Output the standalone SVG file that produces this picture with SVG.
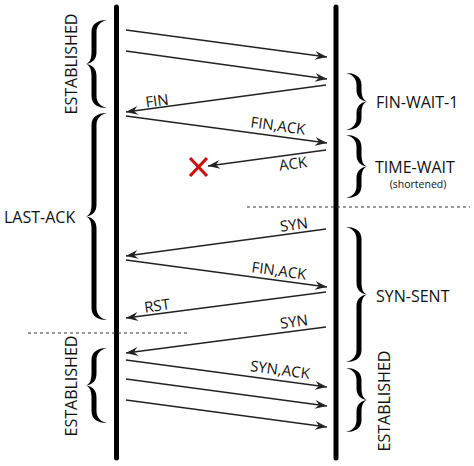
<svg xmlns="http://www.w3.org/2000/svg" width="474" height="466" viewBox="0 0 474 466">
<style>
.life{stroke:#000;stroke-width:5;stroke-linecap:round;fill:none}
.msg{stroke:#222;stroke-width:1.3;fill:none;marker-end:url(#ah)}
.dot{stroke:#333;stroke-width:1.2;stroke-dasharray:3,3;fill:none}
.brace{fill:#000}
.lbl{font-family:"Open Sans","DejaVu Sans",sans-serif;font-size:15px;fill:#111;text-anchor:middle}
.st{font-family:"Open Sans","DejaVu Sans",sans-serif;font-size:16px;fill:#111}
.sm{font-family:"Open Sans","DejaVu Sans",sans-serif;font-size:10.5px;fill:#111;text-anchor:middle}
</style>
<defs>
<marker id="ah" viewBox="-13 -5 14 10" refX="0" refY="0" markerWidth="14" markerHeight="10" markerUnits="userSpaceOnUse" orient="auto">
<path d="M0,0 L-12,-4.5 L-8,0 L-12,4.5 Z" fill="#222"/>
</marker>
</defs>
<g id="lifelines">
<line class="life" x1="116.5" y1="7" x2="116.5" y2="458"/>
<line class="life" x1="336" y1="7" x2="336" y2="458"/>
</g>
<g id="connectors">
<line class="msg" x1="126" y1="30" x2="327" y2="57"/>
<line class="msg" x1="126" y1="51" x2="327" y2="79"/>
<line class="msg" x1="326" y1="85" x2="126" y2="112"/>
<line class="msg" x1="126" y1="116" x2="327" y2="143"/>
<line class="msg" x1="326" y1="150" x2="208" y2="166"/>
<line class="msg" x1="326" y1="229" x2="126" y2="256"/>
<line class="msg" x1="126" y1="260" x2="327" y2="287"/>
<line class="msg" x1="326" y1="292" x2="126" y2="318"/>
<line class="msg" x1="326" y1="327" x2="126" y2="353"/>
<line class="msg" x1="126" y1="360" x2="327" y2="387"/>
<line class="msg" x1="126" y1="379" x2="327" y2="406"/>
<line class="msg" x1="126" y1="400" x2="327" y2="427"/>
<line class="dot" x1="247" y1="207" x2="470" y2="207"/>
<line class="dot" x1="28" y1="333" x2="188" y2="333"/>
</g>
<g id="msg-labels">
<text class="lbl" transform="translate(157,101) rotate(-7.7)" y="5">FIN</text>
<text class="lbl" transform="translate(278,126) rotate(7.7)" y="5">FIN,ACK</text>
<text class="lbl" transform="translate(293,164) rotate(-7.7)" y="5">ACK</text>
<text class="lbl" transform="translate(294,225) rotate(-7.7)" y="5">SYN</text>
<text class="lbl" transform="translate(279,271) rotate(7.7)" y="5">FIN,ACK</text>
<text class="lbl" transform="translate(157,306) rotate(-7.7)" y="5">RST</text>
<text class="lbl" transform="translate(294,322) rotate(-7.7)" y="5">SYN</text>
<text class="lbl" transform="translate(280,370) rotate(7.7)" y="5">SYN,ACK</text>
</g>
<g id="lost">
<path d="M190,158 L207,176 M207,158 L190,176" stroke="#cc1111" stroke-width="3.2" fill="none"/>
</g>
<g id="brace-established-1">
<path class="brace" transform="translate(86,20)" d="M21,0 C13,0 5.5,3 5.5,12 L5.5,32 C5.5,40 3,43 0,44 C3,45 5.5,48 5.5,56 L5.5,76 C5.5,85 13,88 21,88 C15,86.5 10.5,83 10.5,76 L10.5,56 C10.5,49 7,45 0,44 C7,43 10.5,39 10.5,32 L10.5,12 C10.5,5 15,1.5 21,0 Z"/>
<text class="st" transform="translate(77,64) rotate(-90)" text-anchor="middle">ESTABLISHED</text>
</g>
<g id="brace-last-ack">
<path class="brace" transform="translate(86,113)" d="M21,0 C13,0 5.5,3 5.5,12 L5.5,91.5 C5.5,99.5 3,102.5 0,103.5 C3,104.5 5.5,107.5 5.5,115.5 L5.5,195 C5.5,204 13,207 21,207 C15,205.5 10.5,202 10.5,195 L10.5,115.5 C10.5,108.5 7,104.5 0,103.5 C7,102.5 10.5,98.5 10.5,91.5 L10.5,12 C10.5,5 15,1.5 21,0 Z"/>
<text class="st" x="4" y="223">LAST-ACK</text>
</g>
<g id="brace-established-2">
<path class="brace" transform="translate(86,348)" d="M21,0 C13,0 5.5,3 5.5,12 L5.5,25.5 C5.5,33.5 3,36.5 0,37.5 C3,38.5 5.5,41.5 5.5,49.5 L5.5,63 C5.5,72 13,75 21,75 C15,73.5 10.5,70 10.5,63 L10.5,49.5 C10.5,42.5 7,38.5 0,37.5 C7,36.5 10.5,32.5 10.5,25.5 L10.5,12 C10.5,5 15,1.5 21,0 Z"/>
<text class="st" transform="translate(77,386) rotate(-90)" text-anchor="middle">ESTABLISHED</text>
</g>
<g id="brace-fin-wait-1">
<path class="brace" transform="translate(367,73) scale(-1,1)" d="M21,0 C13,0 5.5,3 5.5,12 L5.5,16.5 C5.5,24.5 3,27.5 0,28.5 C3,29.5 5.5,32.5 5.5,40.5 L5.5,45 C5.5,54 13,57 21,57 C15,55.5 10.5,52 10.5,45 L10.5,40.5 C10.5,33.5 7,29.5 0,28.5 C7,27.5 10.5,23.5 10.5,16.5 L10.5,12 C10.5,5 15,1.5 21,0 Z"/>
<text class="st" x="376" y="108">FIN-WAIT-1</text>
</g>
<g id="brace-time-wait">
<path class="brace" transform="translate(367,135) scale(-1,1)" d="M21,0 C13,0 5.5,3 5.5,12 L5.5,19.5 C5.5,27.5 3,30.5 0,31.5 C3,32.5 5.5,35.5 5.5,43.5 L5.5,51 C5.5,60 13,63 21,63 C15,61.5 10.5,58 10.5,51 L10.5,43.5 C10.5,36.5 7,32.5 0,31.5 C7,30.5 10.5,26.5 10.5,19.5 L10.5,12 C10.5,5 15,1.5 21,0 Z"/>
<text class="st" x="375" y="173">TIME-WAIT</text>
<text class="sm" x="418" y="188">(shortened)</text>
</g>
<g id="brace-syn-sent">
<path class="brace" transform="translate(367,227) scale(-1,1)" d="M21,0 C13,0 5.5,3 5.5,12 L5.5,55.5 C5.5,63.5 3,66.5 0,67.5 C3,68.5 5.5,71.5 5.5,79.5 L5.5,123 C5.5,132 13,135 21,135 C15,133.5 10.5,130 10.5,123 L10.5,79.5 C10.5,72.5 7,68.5 0,67.5 C7,66.5 10.5,62.5 10.5,55.5 L10.5,12 C10.5,5 15,1.5 21,0 Z"/>
<text class="st" x="376" y="302">SYN-SENT</text>
</g>
<g id="brace-established-3">
<path class="brace" transform="translate(367,368) scale(-1,1)" d="M21,0 C13,0 5.5,3 5.5,12 L5.5,20 C5.5,28 3,31 0,32 C3,33 5.5,36 5.5,44 L5.5,52 C5.5,61 13,64 21,64 C15,62.5 10.5,59 10.5,52 L10.5,44 C10.5,37 7,33 0,32 C7,31 10.5,27 10.5,20 L10.5,12 C10.5,5 15,1.5 21,0 Z"/>
<text class="st" transform="translate(390,401) rotate(-90)" text-anchor="middle">ESTABLISHED</text>
</g>
</svg>
